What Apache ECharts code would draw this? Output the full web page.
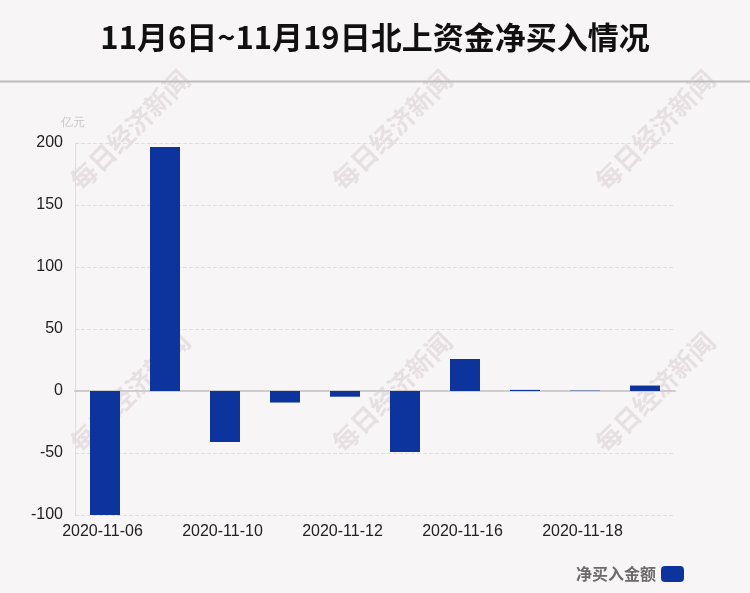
<!DOCTYPE html>
<html style="height: 100%">
<head>
<meta charset="utf-8">
<script src="https://cdn.jsdelivr.net/npm/echarts@6/dist/echarts.min.js"></script>
</head>
<body style="height: 100%; margin: 0; background: #f8f5f6">
<div id="container" style="width: 750px; height: 593px"></div>
<script type="text/javascript">
var dates = ['2020-11-06', '2020-11-09', '2020-11-10', '2020-11-11', '2020-11-12',
	'2020-11-13', '2020-11-16', '2020-11-17', '2020-11-18', '2020-11-19'];
var netBuy = [-100.3, 196.8, -41.1, -9.3, -4.6, -49.2, 25.9, 0.9, 0.3, 4.4];
var yTicks = [-100, -50, 0, 50, 100, 150, 200];

var myChart = echarts.init(document.getElementById('container'));

// watermark "每日经济新闻" tiled 3 x 2
var marks = [];
[130, 392, 655].forEach(function(cx) {
	[130, 392].forEach(function(cy) {
		marks.push({
			type: 'text',
			x: cx, y: cy,
			rotation: Math.PI / 4,
			z: 0,
			style: {
				text: '每日经济新闻',
				font: 'bold 26px "Noto Sans CJK SC"',
				fill: '#e6e0e3',
				textAlign: 'center',
				textVerticalAlign: 'middle'
			}
		});
	});
});
marks.push({
	type: 'line',
	shape: { x1: 0, y1: 81.5, x2: 750, y2: 81.5 },
	style: { stroke: '#bdbbbc', lineWidth: 2 },
	z: 5
});

var option = {
	backgroundColor: '#f8f5f6',
	title: {
		text: '11月6日~11月19日北上资金净买入情况',
		left: 'center',
		top: 17,
		textStyle: {
			fontFamily: '"Noto Sans CJK SC"',
			fontSize: 31,
			fontWeight: 'bold',
			color: '#111'
		}
	},
	graphic: marks,
	legend: {
		right: 61,
		bottom: 6,
		align: 'right',
		itemWidth: 23,
		itemHeight: 16,
		icon: 'roundRect',
		textStyle: {
			fontFamily: '"Noto Sans CJK SC"',
			fontSize: 16,
			fontWeight: 'bold',
			color: '#6b6b6b'
		},
		data: ['净买入金额']
	},
	grid: {
		left: 75,
		right: 75,
		top: 143,
		bottom: 78,
		containLabel: false,
		outerBoundsMode: 'none'
	},
	xAxis: [{
		type: 'category',
		data: dates,
		axisTick: { show: false },
		axisLine: { show: false, onZero: false },
		axisLabel: {
			interval: 1,
			margin: 9,
			padding: [0, 5, 0, 0],
			fontFamily: 'Liberation Sans',
			fontSize: 16,
			color: '#222',
			formatter: function(v) { return v; }
		}
	}, {
		// zero line only
		type: 'category',
		data: dates,
		position: 'bottom',
		axisTick: { show: false },
		axisLabel: { show: false },
		axisLine: { onZero: true, lineStyle: { color: '#cfcccd', width: 2 } }
	}],
	yAxis: {
		type: 'value',
		name: '亿元',
		nameGap: 14,
		nameTextStyle: {
			color: '#cbc7c9',
			fontSize: 12,
			align: 'right',
			padding: [0, -10, 0, 0]
		},
		min: yTicks[0],
		max: yTicks[yTicks.length - 1],
		interval: 50,
		axisLine: { show: true, lineStyle: { color: '#e0dcde' } },
		axisTick: { show: false },
		axisLabel: {
			fontFamily: 'Liberation Sans',
			fontSize: 16,
			color: '#222',
			margin: 12
		},
		splitLine: { lineStyle: { type: 'dashed', color: '#e2dee0' } }
	},
	series: [{
		name: '净买入金额',
		type: 'bar',
		barWidth: '50%',
		z: 3,
		itemStyle: { color: '#0c349c' },
		data: netBuy
	}]
};
myChart.setOption(option);
</script>
</body>
</html>
